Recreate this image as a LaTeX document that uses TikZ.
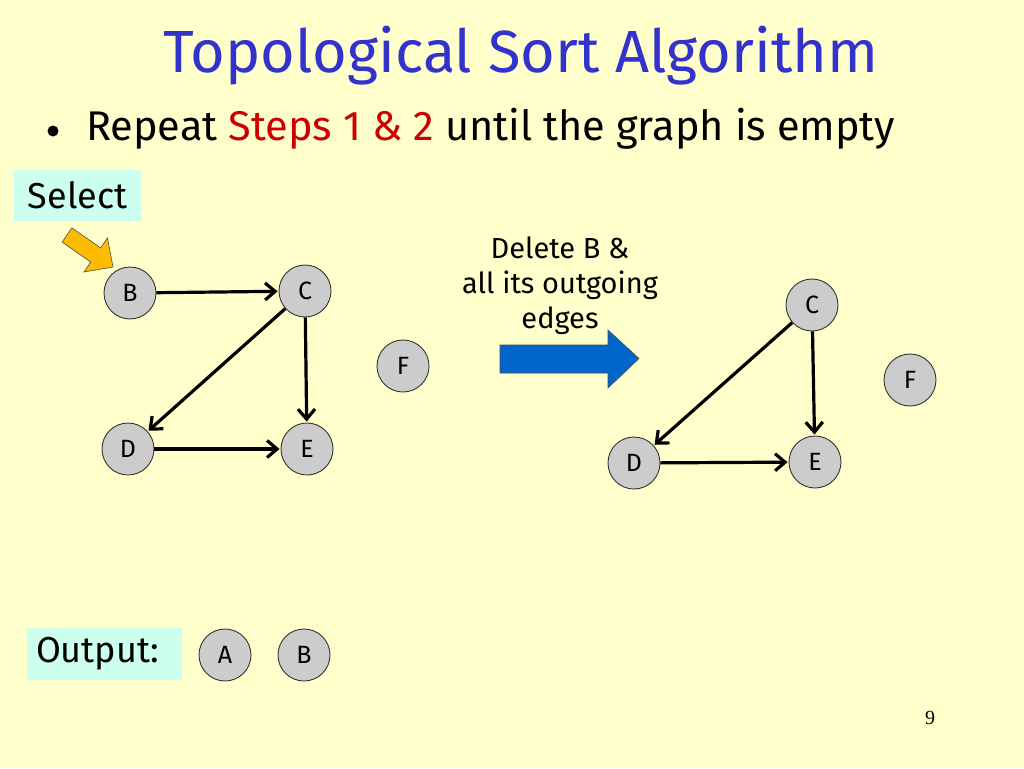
\documentclass[tikz,border=0pt]{standalone}
\usepackage{fontspec}
\setmainfont{Fira Sans}
\newfontfamily\pgserif{Liberation Serif}
\usetikzlibrary{arrows.meta}
\definecolor{bg}{HTML}{FFFFCC}
\definecolor{nodegray}{HTML}{CCCCCC}
\definecolor{titleblue}{HTML}{3333CC}
\definecolor{stepred}{HTML}{CC0000}
\definecolor{boxcyan}{HTML}{CCFFEE}
\definecolor{arrowblue}{HTML}{0066CC}
\definecolor{arrowyellow}{HTML}{FFBB00}
\tikzset{
  vtx/.style={circle, draw=black!80, fill=nodegray, line width=0.9pt, minimum size=52pt, inner sep=0pt, font=\fontsize{25}{27}\selectfont},
  edge/.style={-{Straight Barb[length=10pt,width=17pt]}, line width=3.2pt, shorten >=1pt},
  lbl/.style={fill=boxcyan, inner sep=0pt, font=\fontsize{36}{40}\selectfont},
  blockarrow/.style={draw=black!70, line width=0.6pt, line join=miter},
}
\begin{document}
\begin{tikzpicture}[x=1pt,y=-1pt]
\fill[bg] (0,0) rectangle (1024,768);
\useasboundingbox (0,0) rectangle (1024,768);
% title
\node[text=titleblue, font=\fontsize{59.5}{64}\selectfont] (title) at (521,56) {Topological Sort Algorithm};
\node[circle, fill=black, inner sep=0pt, minimum size=11pt] (dot) at (53,131) {};
\node[anchor=west, inner sep=0pt, font=\fontsize{41.5}{46}\selectfont] (bullet) at (86,129) {Repeat \textcolor{stepred}{Steps 1 \& 2} until the graph is empty};
% select
\node[lbl, minimum width=127pt, minimum height=51pt] (select) at (77.5,195.5) {Select};
\filldraw[blockarrow, fill=arrowyellow] (62.1,242.1) -- (90.8,262.1) -- (83.9,272.0) -- (113,267) -- (107.5,238) -- (100.6,247.9) -- (71.9,227.9) -- cycle;
% left graph
\node[vtx] (B) at (130,293) {B};
\node[vtx] (C) at (305,291) {C};
\node[vtx] (D) at (128,449) {D};
\node[vtx] (E) at (307,449) {E};
\node[vtx] (F) at (403,366) {F};
\draw[edge] (B) -- (C);
\draw[edge] (C) -- (D);
\draw[edge] (C) -- (E);
\draw[edge] (D) -- (E);
% delete text
\node[align=center, font=\fontsize{29}{35}\selectfont] (del) at (560,286) {Delete B \&\\all its outgoing\\edges};
\filldraw[blockarrow, fill=arrowblue] (500,345) -- (608,345) -- (608,330) -- (639,358.5) -- (608,388) -- (608,373) -- (500,373) -- cycle;
% right graph
\node[vtx] (C2) at (812,305) {C};
\node[vtx] (F2) at (910,380) {F};
\node[vtx] (D2) at (634,463) {D};
\node[vtx] (E2) at (815,462) {E};
\draw[edge] (C2) -- (D2);
\draw[edge] (C2) -- (E2);
\draw[edge] (D2) -- (E2);
% output
\node[lbl, minimum width=155pt, minimum height=52pt, text width=137pt, align=left, inner xsep=9pt] (out) at (104.5,654) {Output:};
\node[vtx] (A3) at (225,655) {A};
\node[vtx] (B3) at (304,655) {B};
% page number
\node[font=\fontsize{20}{22}\selectfont\pgserif] (pg) at (930,718) {9};
\end{tikzpicture}
\end{document}
